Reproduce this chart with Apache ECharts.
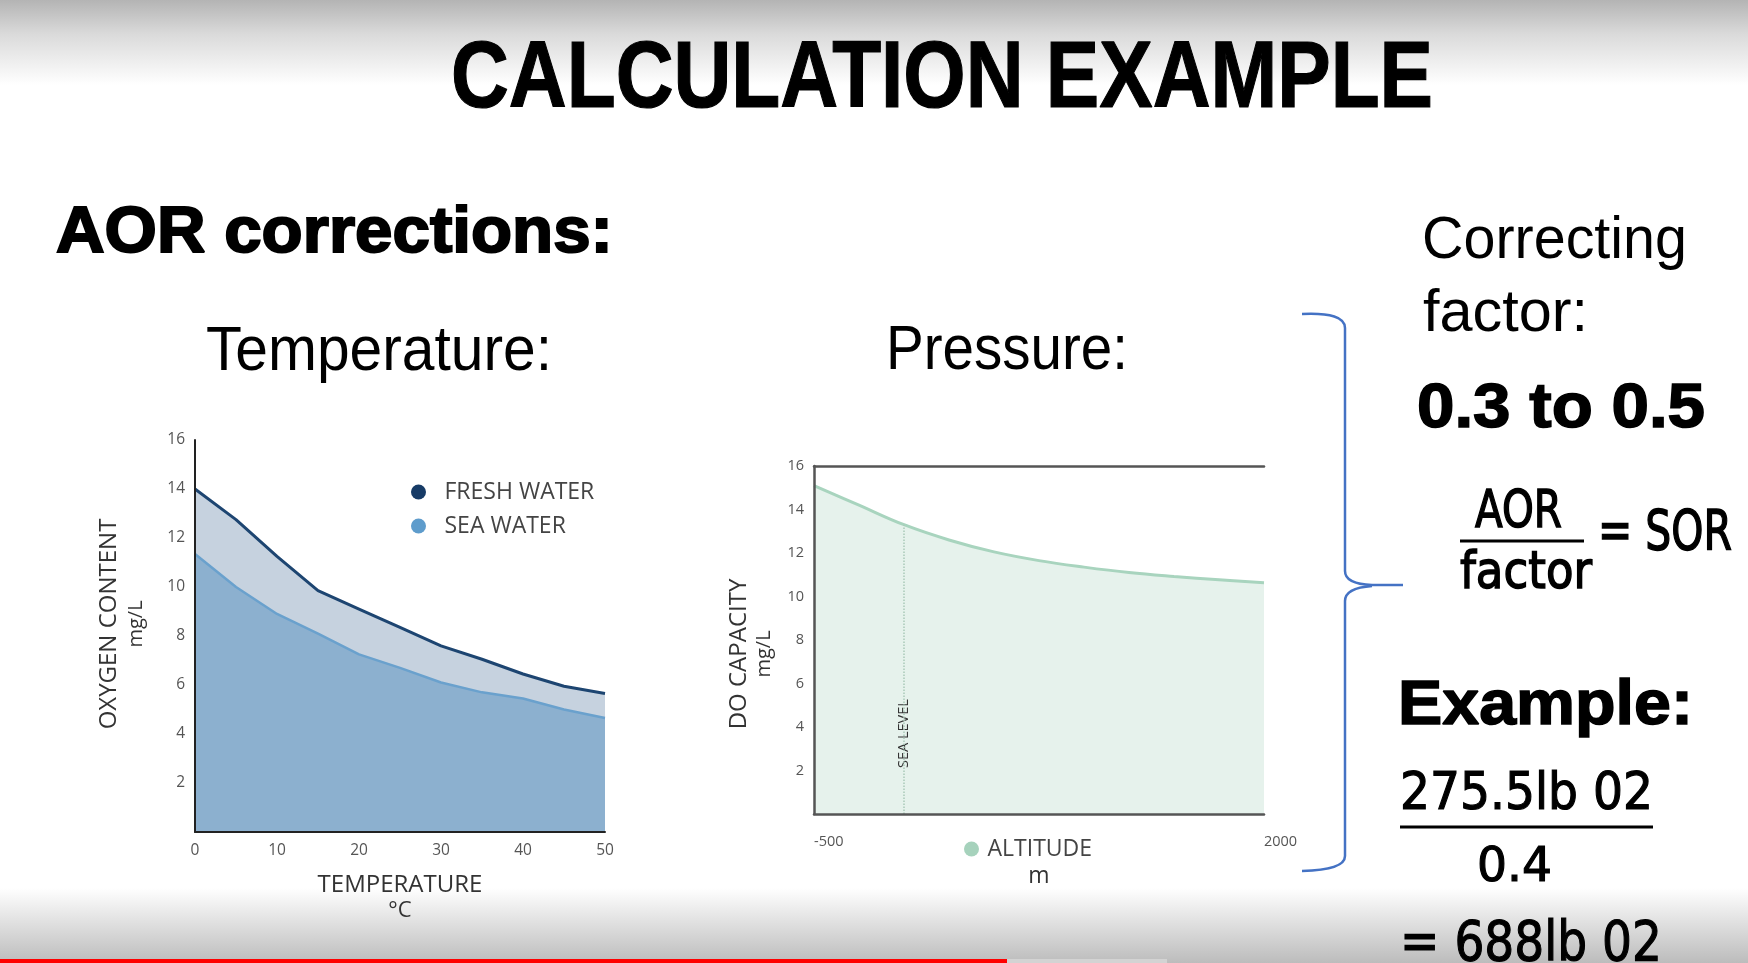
<!DOCTYPE html>
<html>
<head>
<meta charset="utf-8">
<script src="https://cdn.jsdelivr.net/npm/echarts@6/dist/echarts.min.js"></script>
<style>html,body{margin:0;padding:0;background:#fff;}#main{width:1748px;height:963px;}</style>
</head>
<body>
<div id="main"></div>
<script>
// ---- data ----
const temperatureC = [0, 5, 10, 15, 20, 25, 30, 35, 40, 45, 50];
const freshWater   = [14.0, 12.75, 11.25, 9.85, 9.1, 8.35, 7.6, 7.05, 6.45, 5.95, 5.65];
const seaWater     = [11.35, 10.0, 8.9, 8.1, 7.25, 6.7, 6.1, 5.7, 5.45, 5.0, 4.65];
const altitudeM    = [-500, -250, 0, 250, 500, 750, 1000, 1250, 1500, 1750, 2000];
const doCapacity   = [15.1, 14.2, 13.3, 12.6, 12.05, 11.65, 11.35, 11.1, 10.92, 10.77, 10.63];
const seaLevelAltitude = 0;
const seriesNames  = ['FRESH WATER', 'SEA WATER', 'ALTITUDE'];

const chart = echarts.init(document.getElementById('main'), null, {renderer: 'canvas'});

// ---- slide text helpers ----
const mctx = document.createElement('canvas').getContext('2d');
let gid = 0;
function fitText(text, x0, x1, cy, size, family, weight, extraStyle) {
  mctx.font = weight + ' ' + size + 'px "' + family + '"';
  const w = mctx.measureText(text).width;
  return {
    id: 'g' + (gid++), type: 'text', x: x0, y: cy, scaleX: (x1 - x0) / w, z: 10,
    style: Object.assign({text: text, fontSize: size, fontFamily: family, fontWeight: weight,
      fill: '#000', align: 'left', verticalAlign: 'middle'}, extraStyle || {})
  };
}
const thick = {stroke: '#000', lineWidth: 1.2};
const hand = 'DejaVu Sans';
const slide = 'Liberation Sans';
const braceStyle = {stroke: '#4472c4', lineWidth: 2.5, fill: null};
function seg(x1, y1, x2, y2) {
  return {id: 'g' + (gid++), type: 'line', z: 10, shape: {x1, y1, x2, y2}, style: braceStyle};
}
function curve(x1, y1, cx, cy, x2, y2) {
  return {id: 'g' + (gid++), type: 'bezierCurve', z: 10,
          shape: {x1, y1, cpx1: cx, cpy1: cy, x2, y2}, style: braceStyle};
}

const graphics = [
  {id: 'bgTop', type: 'rect', z: -10, shape: {x: 0, y: 0, width: 1748, height: 85},
   style: {fill: {type: 'linear', x: 0, y: 0, x2: 0, y2: 1, colorStops: [
     {offset: 0, color: '#b4b4b4'}, {offset: 0.4, color: '#dadada'}, {offset: 1, color: '#ffffff'}]}}},
  {id: 'bgBot', type: 'rect', z: -10, shape: {x: 0, y: 888, width: 1748, height: 75},
   style: {fill: {type: 'linear', x: 0, y: 0, x2: 0, y2: 1, colorStops: [
     {offset: 0, color: '#ffffff'}, {offset: 1, color: '#bcbcbc'}]}}},
  {id: 'barRed', type: 'rect', z: 20, shape: {x: 0, y: 959, width: 1007, height: 4}, style: {fill: '#ff0000'}},
  {id: 'barGray', type: 'rect', z: 20, shape: {x: 1007, y: 959, width: 160, height: 4}, style: {fill: '#d3d3d3'}},
  fitText('CALCULATION EXAMPLE', 451, 1433, 81, 94, slide, 'bold', thick),
  fitText('AOR corrections:', 56, 613, 234, 64, slide, 'bold', {stroke: '#000', lineWidth: 2}),
  fitText('Temperature:', 206, 552, 353, 63, slide, 'normal'),
  fitText('Pressure:', 886, 1128, 352, 63, slide, 'normal'),
  fitText('Correcting', 1422, 1687, 242, 59, slide, 'normal'),
  fitText('factor:', 1423, 1588, 315, 59, slide, 'normal'),
  fitText('0.3 to 0.5', 1417, 1705, 410, 63, slide, 'bold', {stroke: '#000', lineWidth: 1.5}),
  fitText('AOR', 1475, 1562, 513, 52, hand, 'normal', {stroke: '#000', lineWidth: 1.5}),
  {id: 'fracBar1', type: 'line', z: 10, shape: {x1: 1460, y1: 541, x2: 1584, y2: 541}, style: {stroke: '#000', lineWidth: 3}},
  fitText('factor', 1460, 1592, 574, 52, hand, 'normal', {stroke: '#000', lineWidth: 1.5}),
  fitText('= SOR', 1598, 1732, 535, 55, hand, 'normal', {stroke: '#000', lineWidth: 1.5}),
  fitText('Example:', 1398, 1693, 707, 63, slide, 'bold', {stroke: '#000', lineWidth: 1.5}),
  fitText('275.5lb 02', 1400, 1653, 796, 51, hand, 'normal', {stroke: '#000', lineWidth: 1.2}),
  {id: 'fracBar2', type: 'line', z: 10, shape: {x1: 1400, y1: 827, x2: 1653, y2: 827}, style: {stroke: '#000', lineWidth: 3}},
  fitText('0.4', 1477, 1552, 869, 48, hand, 'normal', {stroke: '#000', lineWidth: 1.2}),
  fitText('= 688lb 02', 1400, 1662, 946, 55, hand, 'normal', {stroke: '#000', lineWidth: 1.2}),
  // blue brace
  curve(1302, 314, 1345, 312, 1345, 328),
  seg(1345, 328, 1345, 571),
  curve(1345, 571, 1345, 584, 1372, 585),
  seg(1372, 585, 1403, 585),
  curve(1372, 586, 1345, 588, 1345, 601),
  seg(1345, 601, 1345, 856),
  curve(1345, 856, 1345, 870, 1302, 871)
];

const axisFont = 'Open Sans';
const hideZero = v => (v === 0 ? '' : String(v));
const plain = v => String(v);

const option = {
  animation: false,
  backgroundColor: '#ffffff',
  grid: [
    {left: 195, top: 440, width: 410, height: 392},
    {left: 814, top: 466, width: 450, height: 348}
  ],
  legend: [
    {data: [seriesNames[0], seriesNames[1]], orient: 'vertical', left: 406, top: 474,
     icon: 'circle', itemWidth: 42, itemHeight: 15, itemGap: 8, selectedMode: false,
     textStyle: {fontFamily: axisFont, fontSize: 23, lineHeight: 26, color: '#444'}},
    {data: [seriesNames[2]], orient: 'horizontal', left: 959, top: 831,
     icon: 'circle', itemWidth: 22, itemHeight: 15, selectedMode: false,
     textStyle: {fontFamily: axisFont, fontSize: 23, lineHeight: 26, color: '#444'}}
  ],
  xAxis: [
    {gridIndex: 0, type: 'value', min: 0, max: 50, interval: 10, z: 5,
     axisLine: {onZero: false, lineStyle: {color: '#222', width: 2}},
     axisTick: {show: false}, splitLine: {show: false},
     axisLabel: {color: '#555', fontSize: 15.5, fontFamily: axisFont, margin: 11, formatter: plain},
     name: '{a|TEMPERATURE}\n{b|°C}', nameLocation: 'middle', nameGap: 41,
     nameTextStyle: {rich: {a: {fontSize: 24, lineHeight: 25, color: '#333', fontFamily: axisFont},
                            b: {fontSize: 22, lineHeight: 25, color: '#333', fontFamily: axisFont}}}},
    {gridIndex: 1, type: 'value', min: -500, max: 2000, interval: 2500, z: 5,
     axisLine: {onZero: false, lineStyle: {color: '#555', width: 2.5}},
     axisTick: {show: false}, splitLine: {show: false},
     axisLabel: {color: '#555', fontSize: 14.5, fontFamily: axisFont, margin: 20, align: 'left', formatter: plain},
     name: 'm', nameLocation: 'middle', nameGap: 50,
     nameTextStyle: {fontSize: 23, lineHeight: 24, color: '#333', fontFamily: axisFont}},
    {gridIndex: 1, type: 'value', position: 'top', min: -500, max: 2000, interval: 2500, z: 5,
     axisLine: {onZero: false, lineStyle: {color: '#555', width: 2.5}},
     axisTick: {show: false}, splitLine: {show: false}, axisLabel: {show: false}}
  ],
  yAxis: [
    {gridIndex: 0, type: 'value', min: 0, max: 16, interval: 2, z: 5,
     axisLine: {show: true, onZero: false, lineStyle: {color: '#222', width: 2}},
     axisTick: {show: false}, splitLine: {show: false},
     axisLabel: {color: '#555', fontSize: 15.5, fontFamily: axisFont, margin: 10, formatter: hideZero},
     name: '{a|OXYGEN CONTENT}\n{b|mg/L}', nameLocation: 'middle', nameRotate: 90, nameGap: 45,
     nameTextStyle: {padding: [0, 0, 0, 24],
       rich: {a: {fontSize: 24, lineHeight: 27, color: '#333', fontFamily: axisFont},
              b: {fontSize: 20, lineHeight: 27, color: '#333', fontFamily: axisFont}}}},
    {gridIndex: 1, type: 'value', min: 0, max: 16, interval: 2, z: 5,
     axisLine: {show: true, onZero: false, lineStyle: {color: '#555', width: 2.5}},
     axisTick: {show: false}, splitLine: {show: false},
     axisLabel: {color: '#555', fontSize: 14.5, fontFamily: axisFont, margin: 10, formatter: hideZero},
     name: '{a|DO CAPACITY}\n{b|mg/L}', nameLocation: 'middle', nameRotate: 90, nameGap: 37,
     nameTextStyle: {padding: [0, 28, 0, 0],
       rich: {a: {fontSize: 24, lineHeight: 25, color: '#333', fontFamily: axisFont},
              b: {fontSize: 20, lineHeight: 25, color: '#333', fontFamily: axisFont}}}}
  ],
  series: [
    {name: seriesNames[0], type: 'line', xAxisIndex: 0, yAxisIndex: 0, symbol: 'none', z: 2,
     data: temperatureC.map((t, i) => [t, freshWater[i]]),
     itemStyle: {color: '#173b66'}, lineStyle: {color: '#1d4571', width: 3},
     areaStyle: {color: '#c6d2df', opacity: 1}},
    {name: seriesNames[1], type: 'line', xAxisIndex: 0, yAxisIndex: 0, symbol: 'none', z: 3,
     data: temperatureC.map((t, i) => [t, seaWater[i]]),
     itemStyle: {color: '#5e9ccc'}, lineStyle: {color: '#6aa1cd', width: 2.5},
     areaStyle: {color: '#8cb0cf', opacity: 1}},
    {name: seriesNames[2], type: 'line', xAxisIndex: 1, yAxisIndex: 1, symbol: 'none', z: 2,
     smooth: 0.4,
     data: altitudeM.map((a, i) => [a, doCapacity[i]]),
     itemStyle: {color: '#a6d2bc'}, lineStyle: {color: '#a8d4be', width: 3},
     areaStyle: {color: '#e6f2ec', opacity: 1},
     markLine: {silent: true, symbol: 'none', label: {show: false},
       lineStyle: {type: 'dotted', color: '#a9c9b8', width: 1.5},
       data: [[{coord: [seaLevelAltitude, 0]},
               {coord: [seaLevelAltitude, doCapacity[altitudeM.indexOf(seaLevelAltitude)]]}]]}}
  ],
  graphic: {elements: graphics}
};
chart.setOption(option);

// SEA LEVEL label placed on the sea-level line through the axis scales
const p = chart.convertToPixel({xAxisIndex: 1, yAxisIndex: 1}, [seaLevelAltitude, 3.7]);
chart.setOption({graphic: {elements: graphics.concat([{
  id: 'seaLevelLabel', type: 'text', x: p[0], y: p[1], rotation: Math.PI / 2, z: 5,
  style: {text: 'SEA LEVEL', fontSize: 14.5, fontFamily: axisFont, fill: '#333',
          align: 'center', verticalAlign: 'middle'}
}])}});
</script>
</body>
</html>
